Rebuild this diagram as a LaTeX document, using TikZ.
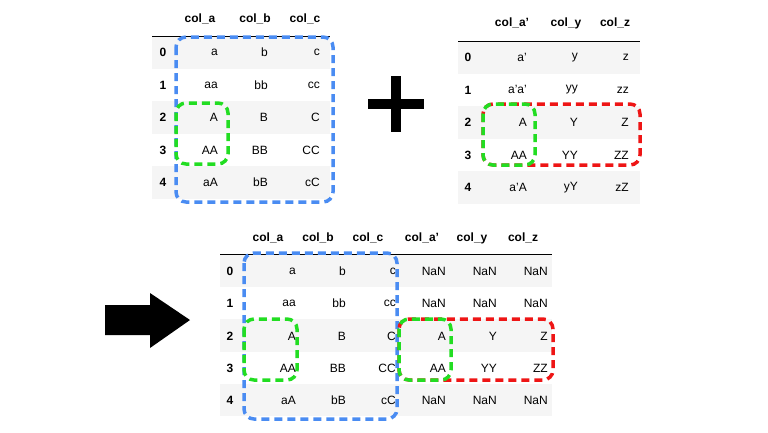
\documentclass[tikz,border=0pt]{standalone}
\usepackage{fontspec}
\setmainfont{Liberation Sans}
\begin{document}
\begin{tikzpicture}[x=1pt,y=-1pt,
  cell/.style={anchor=east,font=\fontsize{12}{14}\selectfont,inner sep=0pt},
  hdr/.style={font=\bfseries\fontsize{12}{14}\selectfont,inner sep=0pt},
  idx/.style={font=\bfseries\fontsize{12}{14}\selectfont,inner sep=0pt},
  stripe/.style={fill=black!4,draw=none},
  hl/.style={line width=3.5pt,dash pattern=on 8pt off 5pt,rounded corners=10pt},
  blueb/.style={hl,draw=blue!50!cyan!70!black!80},
  greenb/.style={hl,draw=green!85!black},
  redb/.style={hl,draw=red!90!black}]
\definecolor{bl}{HTML}{4A8CF2}
\definecolor{gr}{HTML}{22DD22}
\definecolor{rd}{HTML}{EE1515}
\useasboundingbox (0,0) rectangle (768,432);
% ---------- table 1
\foreach \r in {0,2,4}{\fill[black!4] (152,{36+32.6*\r}) rectangle (330,{36+32.6*(\r+1)});}
\draw[line width=0.8pt] (152,36) -- (330,36);
\node[hdr] (h1a) at (200,19) {col\_a};
\node[hdr] (h1b) at (255,19) {col\_b};
\node[hdr] (h1c) at (305,19) {col\_c};
\foreach \r/\a/\b/\c in {0/a/b/c,1/aa/bb/cc,2/A/B/C,3/AA/BB/CC,4/aA/bB/cC}{
  \node[idx] (t1i\r) at (163,{52.3+32.6*\r}) {\r};
  \node[cell] (t1a\r) at (218,{52.3+32.6*\r}) {\a};
  \node[cell] (t1b\r) at (268,{52.3+32.6*\r}) {\b};
  \node[cell] (t1c\r) at (320,{52.3+32.6*\r}) {\c};
}
\draw[hl,draw=bl] (176,37) rectangle (333,202);
\draw[hl,draw=gr] (176,103) rectangle (228,164);
% ---------- plus
\fill (368,99) rectangle (424,109);
\fill (391,76) rectangle (401,132);
% ---------- table 2
\foreach \r in {0,2,4}{\fill[black!4] (458,{41+32.6*\r}) rectangle (640,{41+32.6*(\r+1)});}
\draw[line width=0.8pt] (458,41) -- (640,41);
\node[hdr] (h2a) at (512,23) {col\_a'};
\node[hdr] (h2y) at (566,23) {col\_y};
\node[hdr] (h2z) at (615,23) {col\_z};
\foreach \r/\a/\b/\c in {0/a'/y/z,1/a'a'/yy/zz,2/A/Y/Z,3/AA/YY/ZZ,4/a'A/yY/zZ}{
  \node[idx] (t2i\r) at (468,{57.3+32.6*\r}) {\r};
  \node[cell] (t2a\r) at (527,{57.3+32.6*\r}) {\a};
  \node[cell] (t2b\r) at (578,{57.3+32.6*\r}) {\b};
  \node[cell] (t2c\r) at (629,{57.3+32.6*\r}) {\c};
}
\draw[hl,draw=rd] (483,104) rectangle (640,165);
\draw[hl,draw=gr] (483,104) rectangle (535,165);
% ---------- arrow
\fill (105,305) -- (150,305) -- (150,293) -- (190,320) -- (150,348) -- (150,335) -- (105,335) -- cycle;
% ---------- table 3
\foreach \r in {0,2,4}{\fill[black!4] (220,{255+32.2*\r}) rectangle (552,{255+32.2*(\r+1)});}
\draw[line width=0.8pt] (220,254) -- (552,254);
\node[hdr] (h3a) at (268,238) {col\_a};
\node[hdr] (h3b) at (318,238) {col\_b};
\node[hdr] (h3c) at (368,238) {col\_c};
\node[hdr] (h3d) at (422,238) {col\_a'};
\node[hdr] (h3y) at (472,238) {col\_y};
\node[hdr] (h3z) at (523,238) {col\_z};
\foreach \r/\a/\b/\c/\d/\e/\f in {0/a/b/c/NaN/NaN/NaN,1/aa/bb/cc/NaN/NaN/NaN,2/A/B/C/A/Y/Z,3/AA/BB/CC/AA/YY/ZZ,4/aA/bB/cC/NaN/NaN/NaN}{
  \node[idx] (t3i\r) at (230,{271.5+32.2*\r}) {\r};
  \node[cell] (t3a\r) at (296,{271.5+32.2*\r}) {\a};
  \node[cell] (t3b\r) at (346,{271.5+32.2*\r}) {\b};
  \node[cell] (t3c\r) at (396,{271.5+32.2*\r}) {\c};
  \node[cell] (t3d\r) at (446,{271.5+32.2*\r}) {\d};
  \node[cell] (t3e\r) at (497,{271.5+32.2*\r}) {\e};
  \node[cell] (t3f\r) at (548,{271.5+32.2*\r}) {\f};
}
\draw[hl,draw=bl] (244,253) rectangle (397,419);
\draw[hl,draw=gr] (244,319) rectangle (297,380);
\draw[hl,draw=rd] (399,319) rectangle (553,380);
\draw[hl,draw=gr] (399,319) rectangle (451,380);
\end{tikzpicture}
\end{document}
